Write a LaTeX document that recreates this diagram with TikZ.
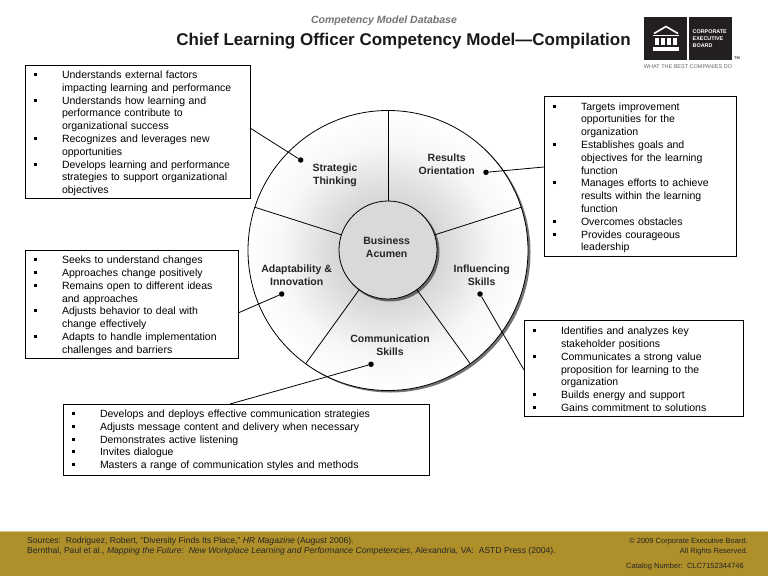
\documentclass[tikz,border=0pt]{standalone}
\usepackage{fontspec}
\setmainfont{Liberation Sans}
\usepackage{tikz}
\definecolor{footerband}{HTML}{AE8F2A}
\definecolor{footerline}{HTML}{D6C88E}
\definecolor{logoblack}{HTML}{231F20}
\pgfdeclareradialshading{discshade}{\pgfpoint{0bp}{0bp}}{color(0bp)=(black!16);color(9bp)=(black!16);color(13bp)=(black!11);color(19bp)=(black!3);color(25bp)=(white)}
\newcommand{\listrow}[1]{\par\hangindent=37pt\hangafter=1\noindent\hbox to 37pt{\hskip 9pt\raisebox{2.5pt}{\rule{3pt}{3pt}}\hfil}#1\par}
\tikzset{
	listbox/.style={draw,fill=white,line width=0.8pt,inner xsep=0pt,inner ysep=0pt,text width=#1,minimum width=#1,font=\fontsize{10.5}{12.8}\selectfont,execute at end node={\vspace{1.5pt}}},
	sector/.style={font=\fontsize{10.5}{13}\selectfont\bfseries,align=center,text=black!85,inner sep=0pt},
	pin/.style={circle,fill=black,inner sep=0pt,minimum size=5.5pt},
	wire/.style={line width=0.8pt},
	footer/.style={font=\fontsize{8.6}{9.5}\selectfont,text=black!85,inner sep=0pt}
}
\begin{document}
\begin{tikzpicture}[x=1pt,y=-1pt]
	\useasboundingbox (0,0) rectangle (768,576);
	\fill[white] (0,0) rectangle (768,576);
	% heading
	\node[font=\fontsize{10.5}{13}\selectfont\bfseries\itshape,text=black!55,inner sep=0pt] (database) at (384,20.5) {Competency Model Database};
	\node[font=\fontsize{17}{20}\selectfont\bfseries,text=black!90,inner sep=0pt] (title) at (403.5,41.5) {Chief Learning Officer Competency Model—Compilation};
	% logo
	\fill[logoblack] (644,17) rectangle (686.5,60);
	\fill[logoblack] (689,17) rectangle (731.5,60);
	\draw[white,line width=1.6pt] (654,33.5) -- (666,26.5) -- (678,33.5);
	\fill[white] (653,34.5) rectangle (679,36);
	\foreach \colx in {654.5,660.5,666.5,672.5}
		\fill[white] (\colx,37.5) rectangle ++(4.5,7);
	\fill[white] (653,47) rectangle (679,51);
	\node[font=\fontsize{5.4}{6.8}\selectfont\bfseries,text=white,align=left,inner sep=0pt,anchor=west] (logotext) at (692.5,38.7) {CORPORATE\\EXECUTIVE\\BOARD};
	\node[font=\fontsize{4}{5}\selectfont\bfseries,text=black!70,inner sep=0pt] (logotm) at (737,58.5) {TM};
	\node[font=\fontsize{5.5}{6}\selectfont,text=black!60,inner sep=0pt] (logotag) at (688,67) {WHAT THE BEST COMPANIES DO};
	% wheel
	\fill[black!55] (390.5,252.5) circle (140);
	\node[circle,draw,line width=0.8pt,shading=discshade,minimum size=280pt,inner sep=0pt,outer sep=0pt] (disc) at (388,250.5) {};
	\fill[black!60] (390,252) circle (49.5);
	\node[circle,draw,line width=0.8pt,fill=black!15,minimum size=98pt,inner sep=0pt,outer sep=0pt] (acumen) at (388,250) {};
	\foreach \ang in {90,18,162,234,306}
		\draw[wire] (acumen.\ang) -- (disc.\ang);
	\node[sector] (acumenlabel) at (386.7,247) {Business\\Acumen};
	\node[sector] (strategiclabel) at (335,175) {Strategic\\Thinking};
	\node[sector] (resultslabel) at (446.7,164.5) {Results\\Orientation};
	\node[sector] (adaptlabel) at (296.7,275) {Adaptability \&\\Innovation};
	\node[sector] (influencelabel) at (481.7,275) {Influencing\\Skills};
	\node[sector] (commlabel) at (390,345.5) {Communication\\Skills};
	\node[pin] (strategicpin) at (300.7,160) {};
	\node[pin] (resultspin) at (486,172.3) {};
	\node[pin] (adaptpin) at (281.7,294) {};
	\node[pin] (influencepin) at (480,294) {};
	\node[pin] (commpin) at (371,364.3) {};
	% lists
	\node[listbox=225pt,minimum height=133pt] (strategicbox) at (137.5,131.5) {%
		\listrow{Understands external factors\newline impacting learning and performance}
		\listrow{Understands how learning and\newline performance contribute to\newline organizational success}
		\listrow{Recognizes and leverages new\newline opportunities}
		\listrow{Develops learning and performance\newline strategies to support organizational\newline objectives}};
	\node[listbox=192pt,minimum height=160pt] (resultsbox) at (640,176) {%
		\listrow{Targets improvement\newline opportunities for the\newline organization}
		\listrow{Establishes goals and\newline objectives for the learning\newline function}
		\listrow{Manages efforts to achieve\newline results within the learning\newline function}
		\listrow{Overcomes obstacles}
		\listrow{Provides courageous\newline leadership}};
	\node[listbox=213pt,minimum height=108pt] (adaptbox) at (131.5,304) {%
		\listrow{Seeks to understand changes}
		\listrow{Approaches change positively}
		\listrow{Remains open to different ideas\newline and approaches}
		\listrow{Adjusts behavior to deal with\newline change effectively}
		\listrow{Adapts to handle implementation\newline challenges and barriers}};
	\node[listbox=219pt,minimum height=96pt] (influencebox) at (633.5,368) {%
		\listrow{Identifies and analyzes key\newline stakeholder positions}
		\listrow{Communicates a strong value\newline proposition for learning to the\newline organization}
		\listrow{Builds energy and support}
		\listrow{Gains commitment to solutions}\vspace{1pt}};
	\node[listbox=366pt,minimum height=71pt] (commbox) at (246,439.5) {%
		\listrow{Develops and deploys effective communication strategies}
		\listrow{Adjusts message content and delivery when necessary}
		\listrow{Demonstrates active listening}
		\listrow{Invites dialogue}
		\listrow{Masters a range of communication styles and methods}\vspace{2pt}};
	% connectors
	\coordinate (strategicend) at (250,128);
	\coordinate (resultsend) at (544,167);
	\coordinate (adaptend) at (238,313);
	\coordinate (influenceend) at (524,370);
	\coordinate (commend) at (230,404);
	\draw[wire] (strategicend) -- (strategicpin);
	\draw[wire] (resultsend) -- (resultspin);
	\draw[wire] (adaptend) -- (adaptpin);
	\draw[wire] (influenceend) -- (influencepin);
	\draw[wire] (commend) -- (commpin);
	% footer
	\fill[footerband] (0,531) rectangle (768,576);
	\fill[footerline] (0,531) rectangle (768,532);
	\node[footer,anchor=base west] (sources) at (27,543) {Sources:\ \ Rodriguez, Robert, “Diversity Finds Its Place,” \textit{HR Magazine} (August 2006).};
	\node[footer,anchor=base west] (bernthal) at (27,553) {Bernthal, Paul et al., \textit{Mapping the Future:\ \ New Workplace Learning and Performance Competencies}, Alexandria, VA:\ \ ASTD Press (2004).};
	\node[footer,font=\fontsize{7.5}{9}\selectfont,anchor=base east] (copyright) at (748,543.5) {© 2009 Corporate Executive Board.};
	\node[footer,font=\fontsize{7.5}{9}\selectfont,anchor=base east] (rights) at (748,553) {All Rights Reserved.};
	\node[footer,font=\fontsize{7.5}{9}\selectfont,anchor=base east] (catalog) at (744,568.5) {Catalog Number:\ \ CLC7152344746};
\end{tikzpicture}
\end{document}
